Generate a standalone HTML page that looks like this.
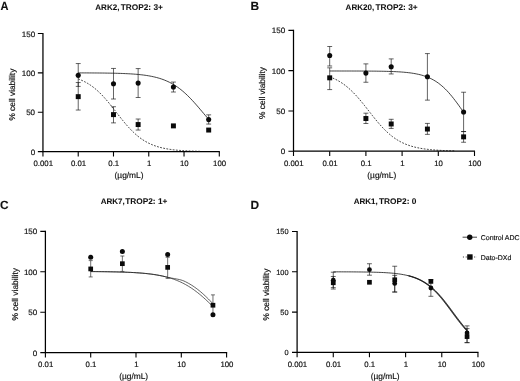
<!DOCTYPE html>
<html><head><meta charset="utf-8"><title>Figure</title>
<style>
html,body{margin:0;padding:0;background:#fff;}
body{width:520px;height:381px;overflow:hidden;font-family:'Liberation Sans', Arial, Helvetica, sans-serif;}
svg{display:block;}
svg text{font-family:'Liberation Sans', Arial, Helvetica, sans-serif;fill:#111;text-rendering:geometricPrecision;stroke:#111;stroke-width:0.17px;}
svg text.b{stroke-width:0.05px;}
svg text.L{stroke-width:0.1px;}
</style></head>
<body>
<svg width="520" height="381" viewBox="0 0 520 381">
<rect width="520" height="381" fill="#ffffff"/>
<text class="L" transform="translate(0.5 10) scale(0.93 1)" font-size="11.9" font-weight="bold">A</text>
<text class="b" x="95.3" y="10.3" font-size="8.05" font-weight="bold">ARK2,<tspan dx="-1.1" font-size="8.3"> TROP2: 3+</tspan></text>
<path d="M42.95 32.9V151.65H219.85" fill="none" stroke="#000" stroke-width="1.25" stroke-linecap="butt" stroke-linejoin="miter"/>
<path d="M37.85 151.65H42.95M37.85 112.25H42.95M37.85 72.85H42.95M37.85 33.45H42.95M42.95 151.65V156.55M78.22 151.65V156.55M113.49 151.65V156.55M148.76 151.65V156.55M184.03 151.65V156.55M219.3 151.65V156.55" fill="none" stroke="#000" stroke-width="1.1"/>
<text transform="translate(35.1 154.75) scale(1.03 1)" text-anchor="end" font-size="7.8">0</text>
<text transform="translate(35.1 115.35) scale(1.03 1)" text-anchor="end" font-size="7.8">50</text>
<text transform="translate(35.1 75.95) scale(1.03 1)" text-anchor="end" font-size="7.8">100</text>
<text transform="translate(35.1 36.55) scale(1.03 1)" text-anchor="end" font-size="7.8">150</text>
<text x="43.25" y="166.25" text-anchor="middle" font-size="7.8">0.001</text>
<text x="78.52" y="166.25" text-anchor="middle" font-size="7.8">0.01</text>
<text x="113.79" y="166.25" text-anchor="middle" font-size="7.8">0.1</text>
<text x="149.06" y="166.25" text-anchor="middle" font-size="7.8">1</text>
<text x="184.33" y="166.25" text-anchor="middle" font-size="7.8">10</text>
<text x="219.6" y="166.25" text-anchor="middle" font-size="7.8">100</text>
<text transform="translate(14.6 94.65) rotate(-90)" text-anchor="middle" font-size="8.35">% cell viability</text>
<text x="129.05" y="177.9" text-anchor="middle" font-size="8.35">(µg/mL)</text>
<path d="M78.22 72.89 L79.85 72.9 L81.48 72.9 L83.11 72.91 L84.74 72.92 L86.37 72.92 L88 72.93 L89.64 72.94 L91.27 72.95 L92.9 72.96 L94.53 72.97 L96.16 72.98 L97.79 72.99 L99.42 73.01 L101.05 73.03 L102.68 73.04 L104.31 73.06 L105.94 73.09 L107.57 73.11 L109.2 73.14 L110.84 73.17 L112.47 73.2 L114.1 73.23 L115.73 73.27 L117.36 73.32 L118.99 73.36 L120.62 73.42 L122.25 73.48 L123.88 73.54 L125.51 73.61 L127.14 73.69 L128.77 73.77 L130.41 73.87 L132.04 73.97 L133.67 74.08 L135.3 74.21 L136.93 74.34 L138.56 74.49 L140.19 74.66 L141.82 74.84 L143.45 75.04 L145.08 75.26 L146.71 75.5 L148.34 75.76 L149.97 76.05 L151.61 76.36 L153.24 76.71 L154.87 77.08 L156.5 77.49 L158.13 77.94 L159.76 78.42 L161.39 78.95 L163.02 79.53 L164.65 80.15 L166.28 80.83 L167.91 81.56 L169.54 82.34 L171.17 83.19 L172.81 84.11 L174.44 85.08 L176.07 86.13 L177.7 87.25 L179.33 88.44 L180.96 89.7 L182.59 91.03 L184.22 92.44 L185.85 93.91 L187.48 95.46 L189.11 97.07 L190.74 98.74 L192.37 100.48 L194.01 102.26 L195.64 104.08 L197.27 105.95 L198.9 107.84 L200.53 109.76 L202.16 111.68 L203.79 113.61 L205.42 115.53 L207.05 117.44 L208.68 119.32" fill="none" stroke="#111" stroke-width="0.8"/>
<path d="M78.22 78.91 L79.75 79.5 L81.29 80.13 L82.82 80.82 L84.35 81.57 L85.88 82.37 L87.42 83.24 L88.95 84.18 L90.48 85.18 L92.02 86.26 L93.55 87.41 L95.08 88.64 L96.62 89.94 L98.15 91.32 L99.68 92.77 L101.21 94.3 L102.75 95.89 L104.28 97.56 L105.81 99.29 L107.35 101.07 L108.88 102.91 L110.41 104.79 L111.95 106.71 L113.48 108.65 L115.01 110.62 L116.54 112.59 L118.08 114.56 L119.61 116.51 L121.14 118.45 L122.68 120.36 L124.21 122.22 L125.74 124.04 L127.28 125.81 L128.81 127.52 L130.34 129.16 L131.87 130.73 L133.41 132.23 L134.94 133.66 L136.47 135.01 L138.01 136.29 L139.54 137.49 L141.07 138.61 L142.6 139.67 L144.14 140.65 L145.67 141.56 L147.2 142.41 L148.74 143.2 L150.27 143.92 L151.8 144.59 L153.34 145.21 L154.87 145.78 L156.4 146.3 L157.93 146.78 L159.47 147.21 L161 147.62 L162.53 147.98 L164.07 148.32 L165.6 148.62 L167.13 148.9 L168.67 149.15 L170.2 149.38 L171.73 149.59 L173.26 149.79 L174.8 149.96 L176.33 150.12 L177.86 150.26 L179.4 150.39 L180.93 150.51 L182.46 150.62 L184 150.71 L185.53 150.8 L187.06 150.88 L188.59 150.95 L190.13 151.02 L191.66 151.08 L193.19 151.13 L194.73 151.18 L196.26 151.23 L197.79 151.27 L199.33 151.3 L200.86 151.34" fill="none" stroke="#111" stroke-width="0.8" stroke-dasharray="1.8 1.4"/>
<path d="M78.22 63.55V86.4M75.77 63.55H80.67M75.77 86.4H80.67" fill="none" stroke="#111" stroke-width="0.65"/>
<path d="M113.49 68.44V99.01M111.04 68.44H115.94M111.04 99.01H115.94" fill="none" stroke="#111" stroke-width="0.65"/>
<path d="M138.14 68.59V97.51M135.69 68.59H140.59M135.69 97.51H140.59" fill="none" stroke="#111" stroke-width="0.65"/>
<path d="M173.41 82.07V92M170.96 82.07H175.86M170.96 92H175.86" fill="none" stroke="#111" stroke-width="0.65"/>
<path d="M208.68 114.85V124.07M206.23 114.85H211.13M206.23 124.07H211.13" fill="none" stroke="#111" stroke-width="0.65"/>
<path d="M78.22 82.54V110.04M75.77 82.54H80.67M75.77 110.04H80.67" fill="none" stroke="#111" stroke-width="0.65"/>
<path d="M113.49 106.73V122.89M111.04 106.73H115.94M111.04 122.89H115.94" fill="none" stroke="#111" stroke-width="0.65"/>
<path d="M138.14 119.03V130.06M135.69 119.03H140.59M135.69 130.06H140.59" fill="none" stroke="#111" stroke-width="0.65"/>
<circle cx="78.22" cy="75.37" r="2.55" fill="#0a0a0a"/>
<circle cx="113.49" cy="83.8" r="2.55" fill="#0a0a0a"/>
<circle cx="138.14" cy="83.09" r="2.55" fill="#0a0a0a"/>
<circle cx="173.41" cy="87.03" r="2.55" fill="#0a0a0a"/>
<circle cx="208.68" cy="119.58" r="2.55" fill="#0a0a0a"/>
<rect x="75.75" y="94.17" width="4.95" height="4.95" fill="#0a0a0a"/>
<rect x="111.02" y="112.14" width="4.95" height="4.95" fill="#0a0a0a"/>
<rect x="135.67" y="122.07" width="4.95" height="4.95" fill="#0a0a0a"/>
<rect x="170.94" y="123.41" width="4.95" height="4.95" fill="#0a0a0a"/>
<rect x="206.21" y="127.58" width="4.95" height="4.95" fill="#0a0a0a"/>
<text class="L" transform="translate(250.4 10.1) scale(1.0 1)" font-size="11.9" font-weight="bold">B</text>
<text class="b" x="345.6" y="10.1" font-size="8.05" font-weight="bold">ARK20,<tspan dx="-1.1" font-size="8.3"> TROP2: 3+</tspan></text>
<path d="M293.5 29.84V151.2H475.05" fill="none" stroke="#000" stroke-width="1.25" stroke-linecap="butt" stroke-linejoin="miter"/>
<path d="M288.4 151.2H293.5M288.4 110.93H293.5M288.4 70.66H293.5M288.4 30.39H293.5M293.5 151.2V156.1M329.7 151.2V156.1M365.9 151.2V156.1M402.1 151.2V156.1M438.3 151.2V156.1M474.5 151.2V156.1" fill="none" stroke="#000" stroke-width="1.1"/>
<text transform="translate(285.25 154.3) scale(1.03 1)" text-anchor="end" font-size="7.8">0</text>
<text transform="translate(285.25 114.03) scale(1.03 1)" text-anchor="end" font-size="7.8">50</text>
<text transform="translate(285.25 73.76) scale(1.03 1)" text-anchor="end" font-size="7.8">100</text>
<text transform="translate(285.25 33.49) scale(1.03 1)" text-anchor="end" font-size="7.8">150</text>
<text x="293.8" y="165.5" text-anchor="middle" font-size="7.8">0.001</text>
<text x="330" y="165.5" text-anchor="middle" font-size="7.8">0.01</text>
<text x="366.2" y="165.5" text-anchor="middle" font-size="7.8">0.1</text>
<text x="402.4" y="165.5" text-anchor="middle" font-size="7.8">1</text>
<text x="438.6" y="165.5" text-anchor="middle" font-size="7.8">10</text>
<text x="474.8" y="165.5" text-anchor="middle" font-size="7.8">100</text>
<text transform="translate(264.8 93) rotate(-90)" text-anchor="middle" font-size="8.35">% cell viability</text>
<text x="381.8" y="177.7" text-anchor="middle" font-size="8.35">(µg/mL)</text>
<path d="M329.7 70.99 L331.37 70.99 L333.05 70.99 L334.72 70.99 L336.4 70.99 L338.07 70.99 L339.74 71 L341.42 71 L343.09 71 L344.76 71 L346.44 71 L348.11 71.01 L349.79 71.01 L351.46 71.01 L353.13 71.02 L354.81 71.02 L356.48 71.03 L358.15 71.03 L359.83 71.04 L361.5 71.04 L363.18 71.05 L364.85 71.06 L366.52 71.07 L368.2 71.08 L369.87 71.1 L371.54 71.11 L373.22 71.13 L374.89 71.14 L376.57 71.16 L378.24 71.19 L379.91 71.21 L381.59 71.24 L383.26 71.27 L384.93 71.31 L386.61 71.35 L388.28 71.4 L389.96 71.45 L391.63 71.51 L393.3 71.57 L394.98 71.64 L396.65 71.73 L398.33 71.82 L400 71.92 L401.67 72.04 L403.35 72.17 L405.02 72.32 L406.69 72.48 L408.37 72.67 L410.04 72.87 L411.72 73.1 L413.39 73.36 L415.06 73.65 L416.74 73.97 L418.41 74.33 L420.08 74.73 L421.76 75.18 L423.43 75.67 L425.11 76.22 L426.78 76.83 L428.45 77.5 L430.13 78.25 L431.8 79.07 L433.47 79.97 L435.15 80.96 L436.82 82.03 L438.5 83.21 L440.17 84.49 L441.84 85.86 L443.52 87.35 L445.19 88.94 L446.86 90.64 L448.54 92.45 L450.21 94.36 L451.89 96.36 L453.56 98.46 L455.23 100.63 L456.91 102.87 L458.58 105.17 L460.26 107.5 L461.93 109.86 L463.6 112.23" fill="none" stroke="#111" stroke-width="0.8"/>
<path d="M329.7 76.86 L331.27 77.45 L332.85 78.1 L334.42 78.81 L335.99 79.57 L337.57 80.39 L339.14 81.28 L340.71 82.24 L342.29 83.27 L343.86 84.37 L345.43 85.54 L347.01 86.8 L348.58 88.13 L350.15 89.54 L351.73 91.02 L353.3 92.58 L354.87 94.21 L356.45 95.91 L358.02 97.68 L359.59 99.51 L361.17 101.38 L362.74 103.31 L364.31 105.27 L365.89 107.25 L367.46 109.26 L369.03 111.27 L370.61 113.29 L372.18 115.29 L373.76 117.27 L375.33 119.21 L376.9 121.12 L378.48 122.98 L380.05 124.79 L381.62 126.53 L383.2 128.21 L384.77 129.82 L386.34 131.36 L387.92 132.81 L389.49 134.2 L391.06 135.5 L392.64 136.73 L394.21 137.88 L395.78 138.95 L397.36 139.96 L398.93 140.89 L400.5 141.76 L402.08 142.56 L403.65 143.3 L405.22 143.99 L406.8 144.62 L408.37 145.2 L409.94 145.73 L411.52 146.22 L413.09 146.67 L414.66 147.08 L416.24 147.45 L417.81 147.79 L419.38 148.1 L420.96 148.39 L422.53 148.65 L424.1 148.88 L425.68 149.1 L427.25 149.29 L428.82 149.47 L430.4 149.63 L431.97 149.78 L433.54 149.91 L435.12 150.03 L436.69 150.14 L438.26 150.24 L439.84 150.33 L441.41 150.41 L442.98 150.49 L444.56 150.56 L446.13 150.62 L447.7 150.67 L449.28 150.72 L450.85 150.77 L452.42 150.81 L454 150.85 L455.57 150.88" fill="none" stroke="#111" stroke-width="0.8" stroke-dasharray="1.8 1.4"/>
<path d="M329.7 46.5V65.99M327.25 46.5H332.15M327.25 65.99H332.15" fill="none" stroke="#111" stroke-width="0.65"/>
<path d="M365.9 63.89V82.26M363.45 63.89H368.35M363.45 82.26H368.35" fill="none" stroke="#111" stroke-width="0.65"/>
<path d="M391.2 58.9V73.96M388.75 58.9H393.65M388.75 73.96H393.65" fill="none" stroke="#111" stroke-width="0.65"/>
<path d="M427.4 53.59V100.14M424.95 53.59H429.85M424.95 100.14H429.85" fill="none" stroke="#111" stroke-width="0.65"/>
<path d="M463.6 92.24V131.55M461.15 92.24H466.05M461.15 131.55H466.05" fill="none" stroke="#111" stroke-width="0.65"/>
<path d="M329.7 67.84V89.59M327.25 67.84H332.15M327.25 89.59H332.15" fill="none" stroke="#111" stroke-width="0.65"/>
<path d="M365.9 113.19V123.49M363.45 113.19H368.35M363.45 123.49H368.35" fill="none" stroke="#111" stroke-width="0.65"/>
<path d="M391.2 119.31V128.41M388.75 119.31H393.65M388.75 128.41H393.65" fill="none" stroke="#111" stroke-width="0.65"/>
<path d="M427.4 123.41V134.37M424.95 123.41H429.85M424.95 134.37H429.85" fill="none" stroke="#111" stroke-width="0.65"/>
<path d="M463.6 131.55V142.26M461.15 131.55H466.05M461.15 142.26H466.05" fill="none" stroke="#111" stroke-width="0.65"/>
<circle cx="329.7" cy="55.52" r="2.55" fill="#0a0a0a"/>
<circle cx="365.9" cy="73.08" r="2.55" fill="#0a0a0a"/>
<circle cx="391.2" cy="66.79" r="2.55" fill="#0a0a0a"/>
<circle cx="427.4" cy="76.78" r="2.55" fill="#0a0a0a"/>
<circle cx="463.6" cy="112.06" r="2.55" fill="#0a0a0a"/>
<rect x="327.22" y="75.35" width="4.95" height="4.95" fill="#0a0a0a"/>
<rect x="363.42" y="116.03" width="4.95" height="4.95" fill="#0a0a0a"/>
<rect x="388.73" y="121.5" width="4.95" height="4.95" fill="#0a0a0a"/>
<rect x="424.93" y="126.58" width="4.95" height="4.95" fill="#0a0a0a"/>
<rect x="461.13" y="134.39" width="4.95" height="4.95" fill="#0a0a0a"/>
<text class="L" transform="translate(0.1 209.3) scale(1.0 1)" font-size="11.9" font-weight="bold">C</text>
<text class="b" x="100.7" y="204.1" font-size="8.05" font-weight="bold">ARK7,<tspan dx="-2.0" font-size="8.3"> TROP2: 1+</tspan></text>
<path d="M45.4 230.79V352.6H227.15" fill="none" stroke="#000" stroke-width="1.25" stroke-linecap="butt" stroke-linejoin="miter"/>
<path d="M40.3 352.6H45.4M40.3 312.18H45.4M40.3 271.76H45.4M40.3 231.34H45.4M45.4 352.6V357.5M90.7 352.6V357.5M136 352.6V357.5M181.3 352.6V357.5M226.6 352.6V357.5" fill="none" stroke="#000" stroke-width="1.1"/>
<text transform="translate(37.3 355.7) scale(1.03 1)" text-anchor="end" font-size="7.8">0</text>
<text transform="translate(37.3 315.28) scale(1.03 1)" text-anchor="end" font-size="7.8">50</text>
<text transform="translate(37.3 274.86) scale(1.03 1)" text-anchor="end" font-size="7.8">100</text>
<text transform="translate(37.3 234.44) scale(1.03 1)" text-anchor="end" font-size="7.8">150</text>
<text x="45.7" y="367.4" text-anchor="middle" font-size="7.8">0.01</text>
<text x="91" y="367.4" text-anchor="middle" font-size="7.8">0.1</text>
<text x="136.3" y="367.4" text-anchor="middle" font-size="7.8">1</text>
<text x="181.6" y="367.4" text-anchor="middle" font-size="7.8">10</text>
<text x="226.9" y="367.4" text-anchor="middle" font-size="7.8">100</text>
<text transform="translate(17.9 294.3) rotate(-90)" text-anchor="middle" font-size="8.45">% cell viability</text>
<text x="133.65" y="378.75" text-anchor="middle" font-size="8.35">(µg/mL)</text>
<path d="M90.7 271.57 L92.23 271.58 L93.76 271.59 L95.28 271.6 L96.81 271.62 L98.34 271.63 L99.87 271.65 L101.4 271.66 L102.93 271.68 L104.45 271.7 L105.98 271.72 L107.51 271.74 L109.04 271.77 L110.57 271.8 L112.1 271.82 L113.62 271.86 L115.15 271.89 L116.68 271.92 L118.21 271.96 L119.74 272 L121.27 272.05 L122.79 272.1 L124.32 272.15 L125.85 272.21 L127.38 272.27 L128.91 272.33 L130.44 272.4 L131.96 272.48 L133.49 272.56 L135.02 272.65 L136.55 272.75 L138.08 272.85 L139.61 272.96 L141.13 273.08 L142.66 273.21 L144.19 273.35 L145.72 273.49 L147.25 273.65 L148.78 273.83 L150.3 274.01 L151.83 274.21 L153.36 274.42 L154.89 274.65 L156.42 274.9 L157.94 275.16 L159.47 275.44 L161 275.75 L162.53 276.07 L164.06 276.42 L165.59 276.79 L167.11 277.17 L168.64 277.52 L170.17 277.83 L171.7 278.12 L173.23 278.39 L174.76 278.66 L176.28 278.93 L177.81 279.22 L179.34 279.55 L180.87 279.94 L182.4 280.41 L183.93 281 L185.45 281.71 L186.98 282.49 L188.51 283.33 L190.04 284.21 L191.57 285.14 L193.1 286.13 L194.62 287.18 L196.15 288.28 L197.68 289.43 L199.21 290.64 L200.74 291.91 L202.27 293.23 L203.79 294.6 L205.32 296.02 L206.85 297.49 L208.38 299.01 L209.91 300.56 L211.44 302.16 L212.96 303.79" fill="none" stroke="#1c1c1c" stroke-width="0.7"/>
<path d="M90.7 271.57 L92.23 271.58 L93.76 271.59 L95.28 271.6 L96.81 271.62 L98.34 271.63 L99.87 271.65 L101.4 271.66 L102.93 271.68 L104.45 271.7 L105.98 271.72 L107.51 271.74 L109.04 271.77 L110.57 271.8 L112.1 271.82 L113.62 271.86 L115.15 271.89 L116.68 271.92 L118.21 271.96 L119.74 272 L121.27 272.05 L122.79 272.1 L124.32 272.15 L125.85 272.21 L127.38 272.27 L128.91 272.33 L130.44 272.4 L131.96 272.48 L133.49 272.56 L135.02 272.65 L136.55 272.75 L138.08 272.85 L139.61 272.96 L141.13 273.08 L142.66 273.21 L144.19 273.35 L145.72 273.49 L147.25 273.65 L148.78 273.83 L150.3 274.01 L151.83 274.21 L153.36 274.42 L154.89 274.65 L156.42 274.9 L157.94 275.16 L159.47 275.44 L161 275.75 L162.53 276.07 L164.06 276.42 L165.59 276.79 L167.11 277.19 L168.64 277.61 L170.17 278.07 L171.7 278.55 L173.23 279.06 L174.76 279.61 L176.28 280.19 L177.81 280.81 L179.34 281.47 L180.87 282.16 L182.4 282.9 L183.93 283.68 L185.45 284.5 L186.98 285.36 L188.51 286.27 L190.04 287.22 L191.57 288.22 L193.1 289.27 L194.62 290.36 L196.15 291.5 L197.68 292.68 L199.21 293.91 L200.74 295.18 L202.27 296.49 L203.79 297.84 L205.32 299.23 L206.85 300.65 L208.38 302.1 L209.91 303.58 L211.44 305.08 L212.96 306.6" fill="none" stroke="#1c1c1c" stroke-width="0.7"/>
<path d="M90.7 260.6V276.93M88.7 260.6H92.7M88.7 276.93H92.7" fill="none" stroke="#333" stroke-width="0.7"/>
<path d="M122.36 256V271.44M120.36 256H124.36M120.36 271.44H124.36" fill="none" stroke="#333" stroke-width="0.7"/>
<path d="M167.66 257.29V278.39M165.66 257.29H169.66M165.66 278.39H169.66" fill="none" stroke="#333" stroke-width="0.7"/>
<path d="M212.96 294.88V315.66M210.96 294.88H214.96M210.96 315.66H214.96" fill="none" stroke="#333" stroke-width="0.7"/>
<circle cx="90.7" cy="257.21" r="2.5" fill="#0a0a0a"/>
<circle cx="122.36" cy="251.39" r="2.5" fill="#0a0a0a"/>
<circle cx="167.66" cy="254.46" r="2.5" fill="#0a0a0a"/>
<circle cx="212.96" cy="314.77" r="2.5" fill="#0a0a0a"/>
<rect x="88.35" y="266.58" width="4.7" height="4.7" fill="#0a0a0a"/>
<rect x="120.01" y="261.33" width="4.7" height="4.7" fill="#0a0a0a"/>
<rect x="165.31" y="265.04" width="4.7" height="4.7" fill="#0a0a0a"/>
<rect x="210.61" y="302.88" width="4.7" height="4.7" fill="#0a0a0a"/>
<text class="L" transform="translate(250.4 209.2) scale(1.0 1)" font-size="11.9" font-weight="bold">D</text>
<text class="b" x="353.7" y="203.8" font-size="8.05" font-weight="bold">ARK1,<tspan dx="-1.1" font-size="8.3"> TROP2: 0</tspan></text>
<path d="M297.1 230.95V352.4H478.5" fill="none" stroke="#000" stroke-width="1.25" stroke-linecap="butt" stroke-linejoin="miter"/>
<path d="M292 352.4H297.1M292 312.1H297.1M292 271.8H297.1M292 231.5H297.1M297.1 352.4V357.3M333.27 352.4V357.3M369.44 352.4V357.3M405.61 352.4V357.3M441.78 352.4V357.3M477.95 352.4V357.3" fill="none" stroke="#000" stroke-width="1.1"/>
<text transform="translate(288.5 355.1) scale(0.98 1)" text-anchor="end" font-size="7.5">0</text>
<text transform="translate(288.5 314.8) scale(0.98 1)" text-anchor="end" font-size="7.5">50</text>
<text transform="translate(288.5 274.5) scale(0.98 1)" text-anchor="end" font-size="7.5">100</text>
<text transform="translate(288.5 234.2) scale(0.98 1)" text-anchor="end" font-size="7.5">150</text>
<text x="297.4" y="367.4" text-anchor="middle" font-size="7.8">0.001</text>
<text x="333.57" y="367.4" text-anchor="middle" font-size="7.8">0.01</text>
<text x="369.74" y="367.4" text-anchor="middle" font-size="7.8">0.1</text>
<text x="405.91" y="367.4" text-anchor="middle" font-size="7.8">1</text>
<text x="442.08" y="367.4" text-anchor="middle" font-size="7.8">10</text>
<text x="478.25" y="367.4" text-anchor="middle" font-size="7.8">100</text>
<text transform="translate(269 294.6) rotate(-90)" text-anchor="middle" font-size="8.35">% cell viability</text>
<text x="385.2" y="378.75" text-anchor="middle" font-size="8.35">(µg/mL)</text>
<path d="M408.47 275.89 L409.21 276.09 L409.94 276.3 L410.67 276.51 L411.4 276.73 L412.14 276.97 L412.87 277.21 L413.6 277.47 L414.33 277.73 L415.07 278.01 L415.8 278.3 L416.53 278.6 L417.26 278.92 L417.99 279.24 L418.73 279.58 L419.46 279.94 L420.19 280.31 L420.92 280.69 L421.66 281.09 L422.39 281.5 L423.12 281.93 L423.85 282.38 L424.59 282.84 L425.32 283.32 L426.05 283.82 L426.78 284.33 L427.52 284.86 L428.25 285.41 L428.98 285.98 L429.71 286.57 L430.44 287.17 L431.18 287.8 L431.91 288.44 L432.64 289.1 L433.37 289.78 L434.11 290.48 L434.84 291.2 L435.57 291.94 L436.3 292.69 L437.04 293.47 L437.77 294.26 L438.5 295.07 L439.23 295.9 L439.96 296.74 L440.7 297.6 L441.43 298.47 L442.16 299.36 L442.89 300.26 L443.63 301.18 L444.36 302.11 L445.09 303.05 L445.82 304 L446.56 304.96 L447.29 305.93 L448.02 306.91 L448.75 307.89 L449.49 308.87 L450.22 309.87 L450.95 310.86 L451.68 311.86 L452.41 312.85 L453.15 313.85 L453.88 314.84 L454.61 315.83 L455.34 316.81 L456.08 317.79 L456.81 318.76 L457.54 319.73 L458.27 320.68 L459.01 321.63 L459.74 322.56 L460.47 323.49 L461.2 324.4 L461.94 325.29 L462.67 326.17 L463.4 327.04 L464.13 327.89 L464.86 328.73 L465.6 329.54 L466.33 330.34 L467.06 331.13" fill="none" stroke="#111" stroke-width="0.8"/>
<path d="M333.27 271.83 L334.94 271.83 L336.61 271.83 L338.29 271.84 L339.96 271.84 L341.63 271.85 L343.3 271.85 L344.98 271.86 L346.65 271.86 L348.32 271.87 L349.99 271.88 L351.67 271.89 L353.34 271.9 L355.01 271.91 L356.68 271.93 L358.36 271.94 L360.03 271.96 L361.7 271.98 L363.37 272 L365.05 272.02 L366.72 272.05 L368.39 272.08 L370.06 272.11 L371.74 272.15 L373.41 272.19 L375.08 272.23 L376.75 272.29 L378.42 272.34 L380.1 272.41 L381.77 272.48 L383.44 272.56 L385.11 272.65 L386.79 272.75 L388.46 272.86 L390.13 272.99 L391.8 273.13 L393.48 273.28 L395.15 273.45 L396.82 273.65 L398.49 273.86 L400.17 274.1 L401.84 274.37 L403.51 274.66 L405.18 274.99 L406.86 275.36 L408.53 275.76 L410.2 276.21 L411.87 276.7 L413.55 277.25 L415.22 277.85 L416.89 278.51 L418.56 279.24 L420.23 280.04 L421.91 280.91 L423.58 281.87 L425.25 282.9 L426.92 284.03 L428.6 285.25 L430.27 286.56 L431.94 287.97 L433.61 289.48 L435.29 291.08 L436.96 292.79 L438.63 294.58 L440.3 296.47 L441.98 298.45 L443.65 300.5 L445.32 302.61 L446.99 304.79 L448.67 307.01 L450.34 309.26 L452.01 311.53 L453.68 313.8 L455.35 316.06 L457.03 318.3 L458.7 320.5 L460.37 322.65 L462.04 324.73 L463.72 326.74 L465.39 328.68 L467.06 330.52" fill="none" stroke="#111" stroke-width="0.8"/>
<path d="M408.47 275.61 L409.21 275.79 L409.94 275.99 L410.67 276.19 L411.4 276.4 L412.14 276.62 L412.87 276.84 L413.6 277.08 L414.33 277.33 L415.07 277.59 L415.8 277.86 L416.53 278.15 L417.26 278.44 L417.99 278.75 L418.73 279.07 L419.46 279.4 L420.19 279.75 L420.92 280.11 L421.66 280.49 L422.39 280.88 L423.12 281.28 L423.85 281.7 L424.59 282.14 L425.32 282.6 L426.05 283.07 L426.78 283.55 L427.52 284.06 L428.25 284.58 L428.98 285.12 L429.71 285.68 L430.44 286.26 L431.18 286.85 L431.91 287.47 L432.64 288.1 L433.37 288.75 L434.11 289.42 L434.84 290.11 L435.57 290.82 L436.3 291.55 L437.04 292.3 L437.77 293.06 L438.5 293.84 L439.23 294.64 L439.96 295.46 L440.7 296.29 L441.43 297.15 L442.16 298.01 L442.89 298.89 L443.63 299.79 L444.36 300.7 L445.09 301.62 L445.82 302.56 L446.56 303.5 L447.29 304.46 L448.02 305.42 L448.75 306.39 L449.49 307.37 L450.22 308.36 L450.95 309.35 L451.68 310.34 L452.41 311.33 L453.15 312.33 L453.88 313.32 L454.61 314.32 L455.34 315.31 L456.08 316.3 L456.81 317.28 L457.54 318.25 L458.27 319.22 L459.01 320.18 L459.74 321.13 L460.47 322.07 L461.2 323 L461.94 323.92 L462.67 324.82 L463.4 325.71 L464.13 326.59 L464.86 327.45 L465.6 328.29 L466.33 329.12 L467.06 329.93" fill="none" stroke="#111" stroke-width="0.8"/>
<path d="M333.27 272.2V287.6M330.82 272.2H335.72M330.82 287.6H335.72" fill="none" stroke="#111" stroke-width="0.65"/>
<path d="M369.44 263.74V275.19M366.99 263.74H371.89M366.99 275.19H371.89" fill="none" stroke="#111" stroke-width="0.65"/>
<path d="M394.72 275.35V292.03M392.27 275.35H397.17M392.27 292.03H397.17" fill="none" stroke="#111" stroke-width="0.65"/>
<path d="M430.89 279.7V296.3M428.44 279.7H433.34M428.44 296.3H433.34" fill="none" stroke="#111" stroke-width="0.65"/>
<path d="M467.06 325.88V342.65M464.61 325.88H469.51M464.61 342.65H469.51" fill="none" stroke="#111" stroke-width="0.65"/>
<path d="M333.27 276.47V289.05M330.82 276.47H335.72M330.82 289.05H335.72" fill="none" stroke="#111" stroke-width="0.65"/>
<path d="M394.72 266.24V292.03M392.27 266.24H397.17M392.27 292.03H397.17" fill="none" stroke="#111" stroke-width="0.65"/>
<path d="M467.06 328.62V342.65M464.61 328.62H469.51M464.61 342.65H469.51" fill="none" stroke="#111" stroke-width="0.65"/>
<circle cx="333.27" cy="280.18" r="2.4" fill="#0a0a0a"/>
<circle cx="369.44" cy="269.7" r="2.4" fill="#0a0a0a"/>
<circle cx="394.72" cy="283.41" r="2.4" fill="#0a0a0a"/>
<circle cx="430.89" cy="288" r="2.4" fill="#0a0a0a"/>
<circle cx="467.06" cy="332.89" r="2.4" fill="#0a0a0a"/>
<rect x="330.92" y="280.41" width="4.7" height="4.7" fill="#0a0a0a"/>
<rect x="367.09" y="279.93" width="4.7" height="4.7" fill="#0a0a0a"/>
<rect x="392.37" y="277.43" width="4.7" height="4.7" fill="#0a0a0a"/>
<rect x="428.54" y="279.04" width="4.7" height="4.7" fill="#0a0a0a"/>
<rect x="464.71" y="334.25" width="4.7" height="4.7" fill="#0a0a0a"/>
<path d="M462.6 237.2H477" stroke="#111" stroke-width="0.8" fill="none"/>
<circle cx="469.75" cy="237.2" r="2.7" fill="#0a0a0a"/>
<text x="480.7" y="239.7" font-size="7.0">Control ADC</text>
<path d="M462.9 257H477" stroke="#111" stroke-width="0.8" stroke-dasharray="1.1 1.7" fill="none"/>
<rect x="467.2" y="254.3" width="5.4" height="5.4" fill="#0a0a0a"/>
<text x="480.7" y="259.5" font-size="7.0">Dato-DXd</text>
</svg>
</body></html>
